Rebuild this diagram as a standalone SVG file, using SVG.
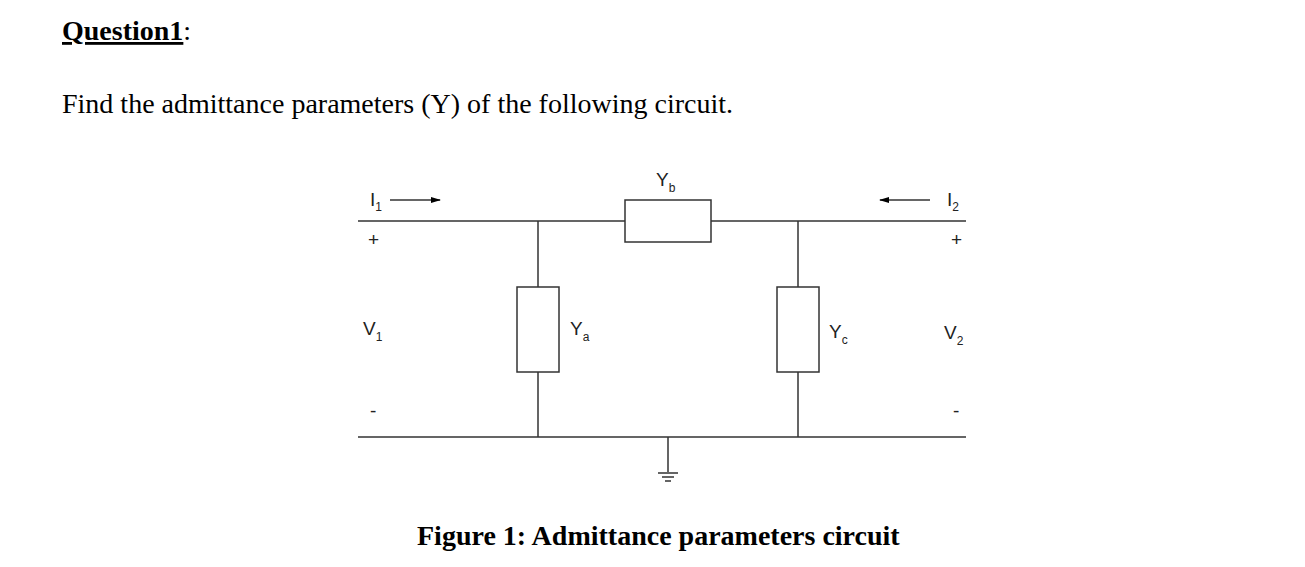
<svg xmlns="http://www.w3.org/2000/svg" width="1305" height="567" viewBox="0 0 1305 567">
<style>
.w{stroke:#333;stroke-width:1.5;fill:none}
.box{stroke:#333;stroke-width:1.5;fill:#fff}
.s{font-family:"Liberation Sans",Arial,sans-serif;font-size:19px;fill:#222}
.sub{font-size:12px}
.t{font-family:"Liberation Serif","Times New Roman",serif;font-size:28px;fill:#000}
</style>
<defs><marker id="ar" markerWidth="10" markerHeight="8" refX="9" refY="4" orient="auto" markerUnits="userSpaceOnUse"><path d="M0,1 L10,4 L0,7 Z" fill="#000"/></marker></defs>
<rect width="1305" height="567" fill="#fff"/>
<text class="t" x="62" y="40"><tspan font-weight="bold" text-decoration="underline">Question1</tspan>:</text>
<text class="t" x="62" y="113">Find the admittance parameters (Y) of the following circuit.</text>
<text class="t" x="417" y="545" font-weight="bold">Figure 1: Admittance parameters circuit</text>
<g id="connectors">
<path class="w" d="M358,221 H625 M711,221 H966 M358,437 H966 M538,221 V287 M538,372 V437 M798,221 V287 M798,372 V437 M668,437 V472"/>
<path class="w" d="M658,473 H678 M662,477 H674 M665,481 H671" stroke-width="1.2"/>
<path class="w" d="M390,200 H440" marker-end="url(#ar)"/>
<path class="w" d="M930,200 H880" marker-end="url(#ar)"/>
</g>
<g id="Ya"><rect class="box" x="517" y="287" width="42" height="85"/><text class="s" x="570" y="335">Y<tspan class="sub" dy="6">a</tspan></text></g>
<g id="Yc"><rect class="box" x="777" y="287" width="42" height="85"/><text class="s" x="829" y="338">Y<tspan class="sub" dy="6">c</tspan></text></g>
<g id="Yb"><rect class="box" x="625" y="200" width="86" height="42"/><text class="s" x="656" y="186">Y<tspan class="sub" dy="6">b</tspan></text></g>
<g id="port1"><text class="s" x="370" y="206">I<tspan class="sub" dy="5">1</tspan></text><text class="s" x="368" y="246" font-size="10">+</text><text class="s" x="363" y="335">V<tspan class="sub" dy="6">1</tspan></text><text class="s" x="370" y="417" font-size="10">-</text></g>
<g id="port2"><text class="s" x="947" y="206">I<tspan class="sub" dy="5">2</tspan></text><text class="s" x="951" y="246" font-size="10">+</text><text class="s" x="944" y="339">V<tspan class="sub" dy="6">2</tspan></text><text class="s" x="953" y="417" font-size="10">-</text></g>
</svg>
